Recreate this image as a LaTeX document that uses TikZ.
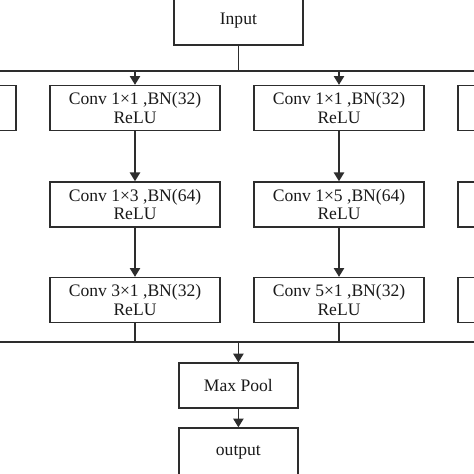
\documentclass[tikz,border=0pt]{standalone}
\usepackage{fontspec}
\setmainfont{Liberation Serif}
\usepackage{tikz}
\usetikzlibrary{arrows.meta, positioning, calc}
\definecolor{lineg}{RGB}{45, 45, 45}

\begin{document}
\begin{tikzpicture}[
    line width=1pt, draw=lineg,
    convbox/.style={draw=lineg, minimum width=4.25cm, minimum height=1.125cm,
      align=center, inner sep=0pt, text=black!90,
      font=\fontsize{12.5pt}{12.9pt}\selectfont},
    iobox/.style={convbox, minimum width=2.975cm},
    flow/.style={-{Triangle[length=2.2mm, width=2.6mm]}}
  ]
  \useasboundingbox (0, 0) rectangle (11.85, -11.85);
  \clip (0, 0) rectangle (11.85, -11.85);

  % input and top bus
  \node[iobox, minimum width=3.225cm, minimum height=1.2cm] (input) at (5.96, -0.52) {Input};
  \coordinate (busT) at (-0.2, -1.775);
  \coordinate (busTr) at (12.0, -1.775);
  \draw (busT) -- (busTr);
  \draw (input.south) -- (input.south |- busT);

  % side branches (cut off at the edges)
  \node[convbox] (l1) at (-1.725, -2.7) {};
  \node[convbox] (r1) at (13.575, -2.7) {};
  \node[convbox] (r2) at (13.575, -5.11) {};
  \node[convbox] (r3) at (13.575, -7.5) {};

  % 3-kernel branch
  \node[convbox] (k3a) at (3.375, -2.7) {Conv 1×1 ,BN(32)\\ReLU};
  \node[convbox] (k3b) at (3.375, -5.11) {Conv 1×3 ,BN(64)\\ReLU};
  \node[convbox] (k3c) at (3.375, -7.5) {Conv 3×1 ,BN(32)\\ReLU};

  % 5-kernel branch
  \node[convbox] (k5a) at (8.475, -2.7) {Conv 1×1 ,BN(32)\\ReLU};
  \node[convbox] (k5b) at (8.475, -5.11) {Conv 1×5 ,BN(64)\\ReLU};
  \node[convbox] (k5c) at (8.475, -7.5) {Conv 5×1 ,BN(32)\\ReLU};

  \draw[flow] (k3a |- busT) -- (k3a);
  \draw[flow] (k5a |- busT) -- (k5a);
  \draw[flow] (k3a) -- (k3b);
  \draw[flow] (k3b) -- (k3c);
  \draw[flow] (k5a) -- (k5b);
  \draw[flow] (k5b) -- (k5c);

  % bottom bus
  \coordinate (busB) at (-0.2, -8.55);
  \coordinate (busBr) at (12.0, -8.55);
  \draw (busB) -- (busBr);
  \draw (k3c.south) -- (k3c.south |- busB);
  \draw (k5c.south) -- (k5c.south |- busB);

  % pooling and output
  \node[iobox] (pool) at (5.96, -9.64) {Max Pool};
  \node[iobox, minimum height=1.2cm] (output) at (5.96, -11.3) {output};
  \draw[flow] (pool |- busB) -- (pool);
  \draw[flow] (pool) -- (output);
\end{tikzpicture}
\end{document}
